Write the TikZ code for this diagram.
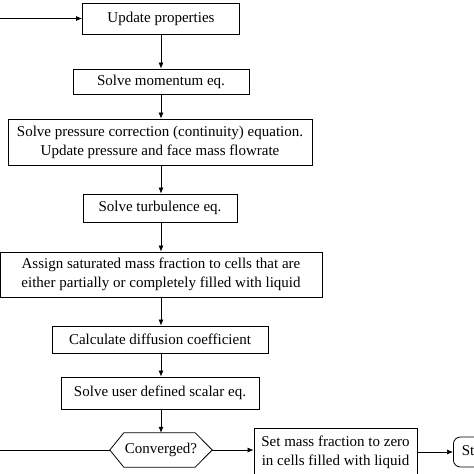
\documentclass[tikz,border=0pt]{standalone}
\usepackage{fontspec}
\setmainfont{Liberation Serif}
\usetikzlibrary{arrows.meta}
\tikzset{
  box/.style={draw, line width=0.8pt, align=center, inner sep=0pt,
    font=\fontsize{15}{19}\selectfont},
  hexnode/.style={align=center, inner sep=0pt, minimum width=102pt, minimum height=34pt,
    font=\fontsize{15}{19}\selectfont},
  endbox/.style={draw, line width=0.8pt, rounded corners=7pt, inner xsep=8.5pt, inner ysep=0pt,
    font=\fontsize{15}{19}\selectfont},
  arr/.style={line width=0.7pt, -{Latex[length=6pt,width=5pt]}},
  ln/.style={line width=0.7pt}
}
\begin{document}
\begin{tikzpicture}[x=1pt,y=-1pt]
\useasboundingbox (0,0) rectangle (474,474);
\node[box, minimum width=157pt, minimum height=31pt] (upd) at (161,18.5) {Update properties};
\node[box, minimum width=176pt, minimum height=25pt] (mom) at (161,81.5) {Solve momentum eq.};
\node[box, minimum width=304pt, minimum height=46pt] (pres) at (160,142) {Solve pressure correction (continuity) equation.\\Update pressure and face mass flowrate};
\node[box, minimum width=154pt, minimum height=28pt] (turb) at (160,208) {Solve turbulence eq.};
\node[box, minimum width=322pt, minimum height=45pt] (assign) at (161,274.5) {Assign saturated mass fraction to cells that are\\either partially or completely filled with liquid};
\node[box, minimum width=216pt, minimum height=27pt] (diff) at (160,339.5) {Calculate diffusion coefficient};
\node[box, minimum width=198pt, minimum height=32pt] (user) at (160,393) {Solve user defined scalar eq.};
\node[hexnode] (conv) at (161,450) {Converged?};
\draw[line width=0.8pt] (conv.west) -- ([xshift=14pt]conv.north west) -- ([xshift=-17pt]conv.north east)
  -- (conv.east) -- ([xshift=-17pt]conv.south east) -- ([xshift=14pt]conv.south west) -- cycle;
\node[box, minimum width=163pt, minimum height=48pt] (setm) at (335.5,452) {Set mass fraction to zero\\in cells filled with liquid};
\node[endbox, minimum height=30pt, anchor=west] (stop) at (453,452) {Stop};
\coordinate (inleft) at (0,18.5);
\coordinate (outleft) at (0,450);
\draw[arr] (inleft) -- (upd.west);
\draw[arr] (upd.south -| 161,0) -- (mom.north -| 161,0);
\draw[arr] (mom.south -| 161,0) -- (pres.north -| 161,0);
\draw[arr] (pres.south -| 161,0) -- (turb.north -| 161,0);
\draw[arr] (turb.south -| 161,0) -- (assign.north -| 161,0);
\draw[arr] (assign.south -| 161,0) -- (diff.north -| 161,0);
\draw[arr] (diff.south -| 161,0) -- (user.north -| 161,0);
\draw[arr] (user.south -| 161,0) -- (conv.north);
\draw[arr] (conv.east) -- (conv.east -| setm.west);
\draw[arr] (setm.east) -- (stop.west);
\draw[ln] (conv.west) -- (outleft);
\end{tikzpicture}
\end{document}
